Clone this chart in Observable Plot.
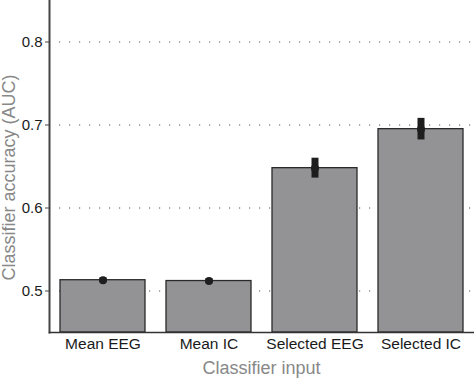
<!DOCTYPE html>
<html><head><meta charset="utf-8">
<script src="https://cdn.jsdelivr.net/npm/d3@7"></script>
<script src="https://cdn.jsdelivr.net/npm/@observablehq/plot@0.6"></script>
<style>
html,body{margin:0;padding:0;background:#fff;}
svg{display:block;font-family:"Liberation Sans",Arial,sans-serif;}
</style>
</head><body>
<div id="chart"></div>
<script>
const categories = ["Mean EEG", "Mean IC", "Selected EEG", "Selected IC"];
const accuracy = [0.513, 0.512, 0.648, 0.695];
const errLow = [0.510, 0.509, 0.636, 0.682];
const errHigh = [0.516, 0.515, 0.660, 0.708];
const yTicks = [0.5, 0.6, 0.7, 0.8];
const yDomain = [0.45, 0.85];

const data = categories.map((c, i) => ({cat: c, v: accuracy[i], lo: errLow[i], hi: errHigh[i]}));

const chart = Plot.plot({
  width: 474,
  height: 379,
  marginLeft: 49,
  marginRight: 1,
  marginTop: 0,
  marginBottom: 47,
  style: {fontFamily: "Liberation Sans, Arial, sans-serif", background: "#fff"},
  x: {domain: categories, paddingInner: 0.2, paddingOuter: 0.1, label: null},
  y: {domain: yDomain, label: null},
  marks: [
    Plot.gridY(yTicks, {stroke: "#555", strokeOpacity: 1, strokeWidth: 1.2, strokeDasharray: "1.2,8.8"}),
    Plot.barY(data, {x: "cat", y1: yDomain[0], y2: "v", fill: "#939395", stroke: "#2a2a2a", strokeWidth: 1.3}),
    Plot.ruleX(data, {x: "cat", y1: "lo", y2: "hi", stroke: "#1e1e1e", strokeWidth: 7}),
    Plot.dot(data, {x: "cat", y: "v", r: 4, fill: "#1e1e1e"}),
    Plot.axisY({ticks: yTicks, tickFormat: d3.format(".1f"), tickSize: 4, tickPadding: 3, fontSize: 15, fill: "#1a1a1a", stroke: "#444", label: null}),
    Plot.axisX({tickSize: 0, tickPadding: 5, fontSize: 15.5, fill: "#1a1a1a", label: null}),
    Plot.frame({anchor: "left", stroke: "#444", strokeWidth: 2}),
    Plot.frame({anchor: "bottom", stroke: "#333", strokeWidth: 1.5}),
    Plot.text(["Classifier input"], {frameAnchor: "bottom", dy: 41, fontSize: 18, fill: "#888"}),
    Plot.text(["Classifier accuracy (AUC)"], {frameAnchor: "left", dx: -40, dy: 11, rotate: -90, textAnchor: "middle", fontSize: 18, fill: "#888"})
  ]
});
document.getElementById("chart").appendChild(chart);
</script>
</body></html>
